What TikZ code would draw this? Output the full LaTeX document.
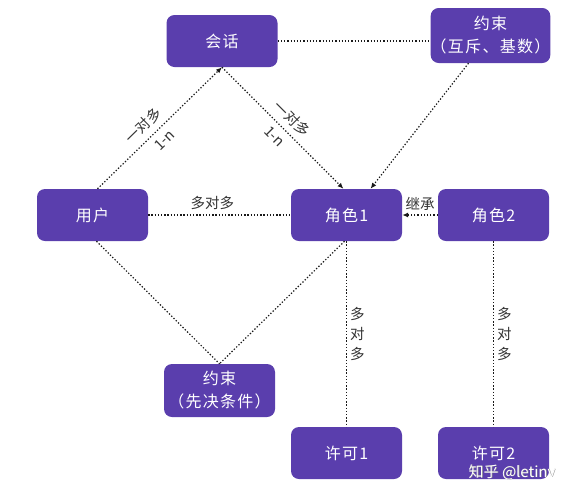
\documentclass[tikz,border=0pt]{standalone}
\usepackage{fontspec}
\setmainfont{Noto Sans CJK SC}
\newfontfamily\boxfont[LetterSpace=8]{Noto Sans CJK SC}
\usetikzlibrary{arrows.meta}
\definecolor{boxc}{HTML}{5A3EAD}
\begin{document}
\begin{tikzpicture}[x=1pt,y=-1pt,
  box/.style={fill=boxc, rounded corners=8pt, text=white, minimum width=111pt, minimum height=52pt,
    font=\boxfont\fontsize{16}{23}\selectfont, align=center, inner sep=0pt},
  link/.style={dash pattern=on 1.3pt off 1.9pt, line width=1.2pt, black!90},
  arr/.style={link, -{Latex[length=6pt,width=5pt]}},
  lab/.style={font=\fontsize{14.5}{17}\selectfont, text=black!80, inner sep=1pt},
  vlab/.style={lab, right=2pt, align=center, font=\fontsize{14.5}{20}\selectfont}]
\useasboundingbox (0,0) rectangle (578,499);
\node[box] (hh) at (222,41) {会话};
\node[box, minimum width=119pt, minimum height=55pt] (yc1) at (490.5,35.5) {约束\\（互斥、基数）};
\node[box] (yh) at (92.5,215) {用户};
\node[box] (js1) at (346.5,215) {角色1};
\node[box] (js2) at (493.5,215) {角色2};
\node[box, minimum height=53pt] (yc2) at (219.5,390.5) {约束\\（先决条件）};
\node[box] (xk1) at (346.5,453) {许可1};
\node[box] (xk2) at (493.5,453) {许可2};

\draw[link] (hh.east) -- (hh.east -| yc1.west);
\draw[arr] ([xshift=5pt]yh.north) -- node[lab, sloped, above=5pt, pos=0.44] {一对多} node[lab, sloped, below=5pt, pos=0.47] {1-n} (hh.south);
\draw[arr] (hh.south) -- node[lab, sloped, above=5pt, pos=0.5] {一对多} node[lab, sloped, below=5pt, pos=0.5] {1-n} ([xshift=-3pt]js1.north);
\draw[arr] ([xshift=-22pt]yc1.south) -- ([xshift=24pt]js1.north);
\draw[link] (yh.east) -- node[lab, above=4pt, pos=0.45] {多对多} (js1.west);
\draw[arr] (js2.west) -- node[lab, above=3pt] {继承} (js1.east);
\draw[link] ([xshift=4pt]yh.south) -- (yc2.north);
\draw[link] ([xshift=-2pt]js1.south) -- (yc2.north);
\draw[link] (js1.south) -- node[vlab] {多\\对\\多} (xk1.north);
\draw[link] (js2.south) -- node[vlab] {多\\对\\多} (xk2.north);
\node[font=\fontsize{15}{17}\selectfont, text=black!45] (wm0) at (512.6,472.6) {知乎 @letinv};
\node[font=\fontsize{15}{17}\selectfont, text=white] (wm) at (512,472) {知乎 @letinv};
\end{tikzpicture}
\end{document}
